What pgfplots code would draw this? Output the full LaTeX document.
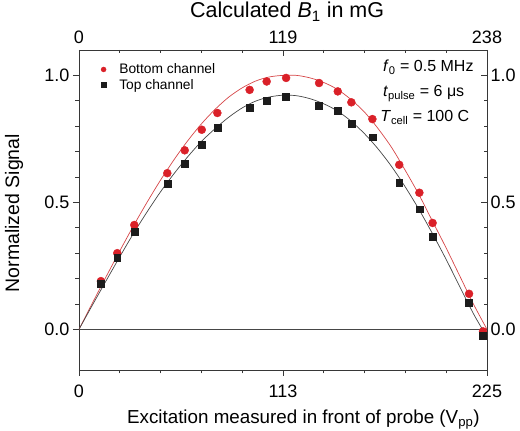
\documentclass[border=0pt]{standalone}
\usepackage{pgfplots}
\pgfplotsset{compat=1.18}
\usepackage{fontspec}
\setmainfont{Liberation Sans}
\definecolor{myred}{RGB}{218,32,40}
\definecolor{mylinered}{RGB}{214,70,72}
\definecolor{myblack}{RGB}{28,28,28}
\definecolor{mygray}{RGB}{70,70,70}
\definecolor{framegray}{RGB}{55,55,55}
\begin{document}
\begin{tikzpicture}
\pgfplotsset{
  common/.style={
    scale only axis, width=408pt, height=320pt,
    ymin=-0.16, ymax=1.1,
    axis line style={-, draw=framegray, line width=0.9pt},
    every tick/.style={draw=framegray, line width=0.8pt},
    major tick length=6pt, minor tick length=3.5pt,
    tick label style={font=\fontsize{18}{21}\selectfont},
    ytick={0,0.5,1}, yticklabels={0.0,0.5,1.0}, minor y tick num=4,
  }
}
% top / right axis
\begin{axis}[common,
  xmin=0, xmax=238,
  axis x line*=top, axis y line*=right,
  xtick align=inside, ytick align=inside,
  xtick={0,119,238}, xticklabels={0,119,238}, minor x tick num=4,
  xticklabel style={yshift=3pt},
  xlabel={Calculated \textit{B}\textsubscript{1} in mG},
  xlabel style={at={(axis description cs:0.51,1.1)}, anchor=base,
    font=\fontsize{21.5}{25}\selectfont},
]
\addplot[draw=none, forget plot] coordinates {(0,0)};
\end{axis}
% bottom / left axis with data
\begin{axis}[common,
  xmin=0, xmax=225,
  axis x line*=bottom, axis y line*=left,
  xtick align=outside, ytick align=outside,
  xtick={0,112.5,225}, xticklabels={0,113,225}, minor x tick num=4,
  xticklabel style={yshift=-5pt},
  xlabel={Excitation measured in front of probe (V\textsubscript{pp})},
  xlabel style={at={(axis description cs:0.55,-0.168)}, anchor=base,
    font=\fontsize{18.8}{22}\selectfont},
  ylabel={Normalized Signal},
  ylabel style={at={(axis description cs:-0.147,0.49)}, anchor=base,
    font=\fontsize{19.5}{23}\selectfont},
  legend style={at={(axis description cs:0.052,0.964)}, anchor=north west,
    draw=none, fill=none, inner sep=0pt, row sep=0pt,
    font=\fontsize{13.8}{15.5}\selectfont, cells={anchor=west}},
  legend image code/.code={\draw[#1, mark size=2.5pt] plot coordinates {(0pt,0pt)};
    \path (-3pt,0pt) (13.5pt,0pt);},
]
\draw[mygray, line width=0.8pt] (axis cs:0,0) -- (axis cs:225,0);
% fitted curves
\addplot[mylinered, line width=0.7pt, smooth, forget plot] coordinates {
(0,0) (7.5,0.105) (15,0.208) (22.5,0.309) (30,0.407) (37.5,0.5) (45,0.588)
(52.5,0.669) (60,0.743) (67.5,0.809) (75,0.866) (82.5,0.914) (90,0.951)
(97.5,0.978) (105,0.994) (112.5,1.0) (120,1.0) (127.5,0.99) (135,0.972)
(142.5,0.945) (150,0.905) (157.5,0.855) (165,0.79) (172.5,0.715) (180,0.625)
(187.5,0.53) (195,0.425) (202.5,0.32) (210,0.21) (217.5,0.1) (225,0)
};
\addplot[mygray, line width=0.7pt, smooth, forget plot] coordinates {
(0,0) (7.5,0.097) (15,0.192) (22.5,0.286) (30,0.377) (37.5,0.462) (45,0.542)
(52.5,0.614) (60,0.68) (67.5,0.74) (75,0.79) (82.5,0.835) (90,0.872)
(97.5,0.899) (105,0.915) (112.5,0.922) (120,0.92) (127.5,0.908) (135,0.888)
(142.5,0.86) (150,0.82) (157.5,0.77) (165,0.71) (172.5,0.64) (180,0.56)
(187.5,0.472) (195,0.376) (202.5,0.275) (210,0.168) (217.5,0.062) (222.5,0)
};
% data
\addplot[only marks, mark=*, mark size=4pt, color=myred, fill=myred] coordinates {
(12.1,0.19) (21.1,0.30) (30.5,0.411) (48.7,0.615) (58.3,0.705) (67.7,0.786)
(76.3,0.852) (94.1,0.943) (103.5,0.976) (114.2,0.99) (132.4,0.970)
(142.7,0.937) (150.2,0.894) (161.8,0.828) (176.6,0.648) (187.7,0.538)
(195.0,0.419) (215.1,0.140) (222.8,-0.008)
};
\addlegendentry{Bottom channel}
\addplot[only marks, mark=square*, mark size=3.4pt, color=myblack, fill=myblack] coordinates {
(12.1,0.18) (21.1,0.283) (30.5,0.385) (48.7,0.574) (58.3,0.652) (67.7,0.727)
(76.3,0.793) (94.1,0.874) (103.5,0.899) (114.2,0.915) (132.4,0.882)
(142.7,0.861) (150.2,0.811) (161.8,0.757) (176.6,0.577) (187.7,0.473)
(195.0,0.364) (215.1,0.104) (222.8,-0.024)
};
\addlegendentry{Top channel}
\node[anchor=base west, font=\fontsize{16}{19}\selectfont, inner sep=0pt]
  at (axis description cs:0.745,0.933) {\textit{f}\textsubscript{0} = 0.5 MHz};
\node[anchor=base west, font=\fontsize{16}{19}\selectfont, inner sep=0pt]
  at (axis description cs:0.745,0.854) {\textit{t}\textsubscript{pulse} = 6 μs};
\node[anchor=base west, font=\fontsize{16}{19}\selectfont, inner sep=0pt]
  at (axis description cs:0.738,0.776) {\textit{T}\textsubscript{cell} = 100 C};
\end{axis}
\pgfresetboundingbox
\path[use as bounding box] (-79pt,-61pt) rectangle (441pt,370pt);
\end{tikzpicture}
\end{document}
